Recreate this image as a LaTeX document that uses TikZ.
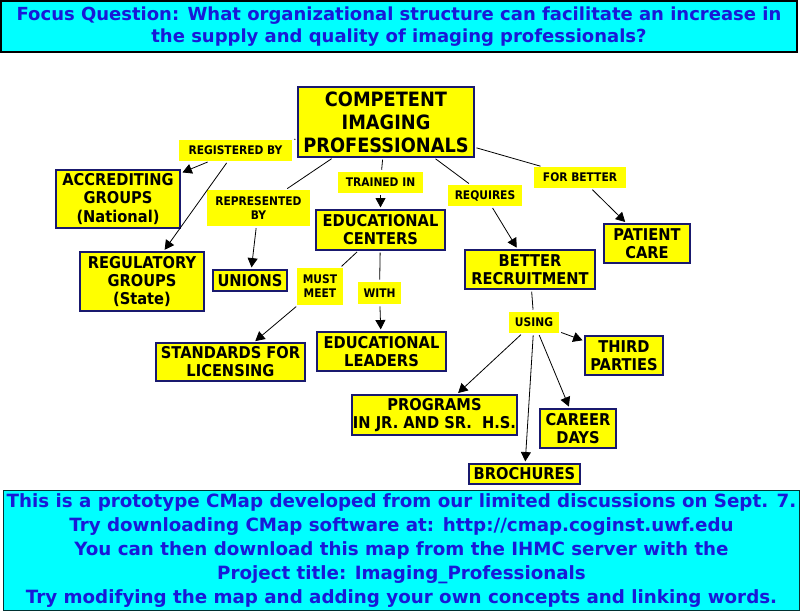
\documentclass[tikz,border=0pt]{standalone}
\usepackage{fontspec}
\setmainfont{DejaVu Sans}
\newfontfamily\cfont{DejaVu Sans}[FakeStretch=0.9]
\newfontfamily\blfont{DejaVu Sans}
\usetikzlibrary{arrows.meta}
\definecolor{cy}{RGB}{0,255,255}
\definecolor{ye}{RGB}{255,255,0}
\definecolor{bt}{RGB}{25,25,215}
\definecolor{nv}{RGB}{25,25,110}
\tikzset{
  concept/.style={draw=nv, line width=0.9pt, fill=ye, align=center, inner sep=0pt,
    font=\cfont\bfseries\fontsize{12.2}{13.6}\selectfont},
  bigconcept/.style={concept, font=\cfont\bfseries\fontsize{14.8}{17.2}\selectfont},
  linkw/.style={fill=ye, align=center, inner sep=0pt,
    font=\cfont\bfseries\fontsize{8.9}{10.5}\selectfont},
  conn/.style={line width=0.6pt, shorten <=1.5pt, shorten >=1.5pt},
  arr/.style={conn, -{Triangle[length=7pt,width=7.5pt]}},
  infobox/.style={fill=cy, line width=1.1pt, align=center, inner sep=0pt, text=bt}
}
\begin{document}
\begin{tikzpicture}[x=0.75pt,y=-0.75pt]
\useasboundingbox (0,0) rectangle (804,614);
% information boxes
\node[infobox, draw=black, minimum width=597pt, minimum height=38pt,
  font=\blfont\bfseries\fontsize{13.5}{16.5}\selectfont] (focus) at (399,26.5)
  {Focus Question: What organizational structure can facilitate an increase in\\
   the supply and quality of imaging professionals?};
\node[infobox, draw=black!80!cy, minimum width=597pt, minimum height=90pt,
  font=\blfont\bfseries\fontsize{13.7}{18}\selectfont] (note) at (401.5,550.5)
  {This is a prototype CMap developed from our limited discussions on Sept. 7.\\
   Try downloading CMap software at: http://cmap.coginst.uwf.edu\\
   You can then download this map from the IHMC server with the\\
   Project title: Imaging\_Professionals\\
   Try modifying the map and adding your own concepts and linking words.};
% concepts
\node[bigconcept, minimum width=132pt, minimum height=52.5pt] (cip) at (386,122)
  {COMPETENT\\IMAGING\\PROFESSIONALS};
\node[concept, minimum width=93pt, minimum height=43.5pt] (acc) at (118,199)
  {ACCREDITING\\GROUPS\\(National)};
\node[concept, minimum width=93pt, minimum height=44.25pt] (reg) at (142,281.5)
  {REGULATORY\\GROUPS\\(State)};
\node[concept, minimum width=55.5pt, minimum height=15.75pt] (uni) at (250,280.5)
  {UNIONS};
\node[concept, minimum width=96.75pt, minimum height=30pt] (ec) at (380.5,230)
  {EDUCATIONAL\\CENTERS};
\node[concept, minimum width=111.75pt, minimum height=28.5pt] (std) at (230.5,362)
  {STANDARDS FOR\\LICENSING};
\node[concept, minimum width=96.75pt, minimum height=29.25pt] (el) at (381.5,351.5)
  {EDUCATIONAL\\LEADERS};
\node[concept, minimum width=97.5pt, minimum height=29.25pt] (br) at (530,269.5)
  {BETTER\\RECRUITMENT};
\node[concept, minimum width=64.5pt, minimum height=29.25pt] (pc) at (647,243.5)
  {PATIENT\\CARE};
\node[concept, minimum width=58.5pt, minimum height=29.25pt] (tp) at (624,355.5)
  {THIRD\\PARTIES};
\node[concept, minimum width=123.75pt, minimum height=30pt] (prog) at (434.5,415)
  {PROGRAMS\\IN JR. AND SR.\ \ H.S.};
\node[concept, minimum width=57pt, minimum height=29.25pt] (cd) at (578,428.5)
  {CAREER\\DAYS};
\node[concept, minimum width=83.25pt, minimum height=15pt] (bro) at (524.5,474)
  {BROCHURES};
% linking phrases
\node[linkw, minimum width=84.75pt, minimum height=15.75pt] (regby) at (235.5,150.5) {REGISTERED BY};
\node[linkw, minimum width=77.25pt, minimum height=27pt] (repby) at (258.5,208) {REPRESENTED\\BY};
\node[linkw, minimum width=63.75pt, minimum height=15.75pt] (trin) at (380.5,182.5) {TRAINED IN};
\node[linkw, minimum width=55.5pt, minimum height=15.75pt] (req) at (485,195.5) {REQUIRES};
\node[linkw, minimum width=69pt, minimum height=15.75pt] (forb) at (580,177.5) {FOR BETTER};
\node[linkw, minimum width=34.5pt, minimum height=27.75pt] (mm) at (320,286.5) {MUST\\MEET};
\node[linkw, minimum width=32.25pt, minimum height=16.5pt] (with) at (379.5,293) {WITH};
\node[linkw, minimum width=37.5pt, minimum height=15.75pt] (using) at (534,322.5) {USING};
% connectors
\draw[conn] (cip) -- (regby);
\draw[arr] (regby) -- (acc);
\draw[arr] (regby) -- (reg);
\draw[conn] (cip) -- (repby);
\draw[arr] (repby) -- (uni);
\draw[conn] (cip) -- (trin);
\draw[arr] (trin) -- (ec);
\draw[conn] (cip) -- (req);
\draw[arr] (req) -- (br);
\draw[conn] (cip) -- (forb);
\draw[arr] (forb) -- (pc);
\draw[conn] (ec) -- (mm);
\draw[arr] (mm) -- (std);
\draw[conn] (ec) -- (with);
\draw[arr] (with) -- (el);
\draw[conn] (br) -- (using);
\draw[arr] (using) -- (tp);
\draw[arr] (using) -- (prog);
\draw[arr] (using) -- (bro);
\draw[arr] (using) -- (cd);
\end{tikzpicture}
\end{document}
